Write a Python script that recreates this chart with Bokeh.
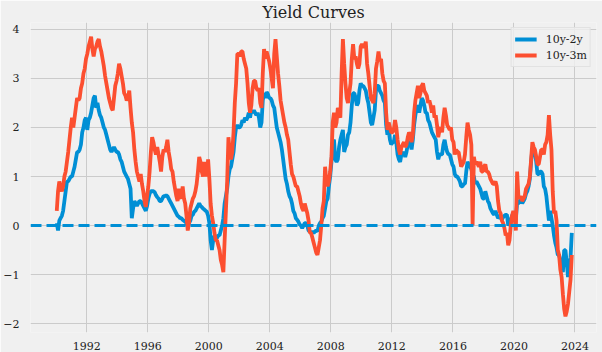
from bokeh.plotting import figure
from bokeh.models import Range1d, FixedTicker, Span, Legend, LegendItem
from bokeh.embed import file_html
from bokeh.resources import INLINE

# ---- data (monthly values), Jan 1990 .. Oct 2023 ----
START_YEAR = 1990
spread_10y2y = [
    0.05, -0.1, 0.1, 0.15, 0.2, 0.3, 0.5, 0.7, 0.9, 0.9, 0.95, 1.0,          # 1990
    1.0, 1.1, 1.2, 1.35, 1.5, 1.5, 1.55, 1.65, 1.9, 2.0, 2.15, 2.2,          # 1991
    1.95, 2.15, 2.2, 2.3, 2.45, 2.6, 2.65, 2.4, 2.5, 2.35, 2.25, 2.2,        # 1992
    2.1, 2.0, 1.95, 1.85, 1.75, 1.65, 1.55, 1.5, 1.55, 1.6, 1.55, 1.5,       # 1993
    1.5, 1.45, 1.35, 1.3, 1.2, 1.1, 1.05, 1.0, 0.95, 0.85, 0.75, 0.15,       # 1994
    0.35, 0.5, 0.45, 0.4, 0.45, 0.5, 0.5, 0.45, 0.4, 0.35, 0.3, 0.4,         # 1995
    0.55, 0.65, 0.7, 0.7, 0.7, 0.68, 0.62, 0.58, 0.55, 0.5, 0.5, 0.55,       # 1996
    0.6, 0.6, 0.62, 0.6, 0.55, 0.5, 0.45, 0.4, 0.35, 0.3, 0.25, 0.2,         # 1997
    0.18, 0.15, 0.15, 0.12, 0.1, 0.08, 0.05, 0.0, 0.05, 0.1, 0.2, 0.22,      # 1998
    0.28, 0.3, 0.35, 0.4, 0.45, 0.4, 0.38, 0.35, 0.33, 0.3, 0.28, 0.2,       # 1999
    0.05, -0.3, -0.5, -0.3, -0.2, -0.25, -0.25, -0.2, -0.2, -0.1, 0.0, 0.15, # 2000
    0.45, 0.6, 0.75, 1.0, 1.15, 1.2, 1.35, 1.5, 1.8, 2.0, 2.05, 2.0,         # 2001
    2.0, 2.05, 2.15, 2.1, 2.2, 2.15, 2.2, 2.3, 2.2, 2.35, 2.3, 2.35,         # 2002
    2.3, 2.25, 2.3, 2.2, 2.0, 2.1, 2.55, 2.7, 2.6, 2.72, 2.68, 2.6,          # 2003
    2.6, 2.55, 2.45, 2.4, 2.2, 2.0, 1.9, 1.8, 1.7, 1.55, 1.35, 1.15,         # 2004
    0.95, 0.85, 0.7, 0.6, 0.55, 0.45, 0.3, 0.25, 0.15, 0.12, 0.08, 0.02,     # 2005
    0.0, -0.05, 0.0, 0.05, 0.05, 0.0, -0.1, -0.12, -0.15, -0.12, -0.15, -0.12,  # 2006
    -0.1, -0.12, 0.0, 0.05, 0.08, 0.15, 0.2, 0.35, 0.5, 0.55, 0.8, 1.0,      # 2007
    1.3, 1.7, 1.75, 1.35, 1.3, 1.35, 1.6, 1.75, 1.85, 1.95, 1.5, 1.6,        # 2008
    1.65, 1.85, 1.9, 2.1, 2.45, 2.7, 2.7, 2.6, 2.45, 2.5, 2.75, 2.9,         # 2009
    2.85, 2.85, 2.8, 2.75, 2.6, 2.5, 2.3, 2.1, 2.05, 2.2, 2.35, 2.75,        # 2010
    2.85, 2.85, 2.75, 2.7, 2.65, 2.55, 2.5, 2.05, 1.85, 1.95, 1.75, 1.65,    # 2011
    1.7, 1.7, 1.85, 1.7, 1.45, 1.35, 1.3, 1.45, 1.45, 1.5, 1.4, 1.5,         # 2012
    1.65, 1.7, 1.7, 1.55, 1.75, 2.05, 2.25, 2.4, 2.45, 2.3, 2.45, 2.6,       # 2013
    2.55, 2.45, 2.3, 2.3, 2.15, 2.1, 2.0, 1.9, 1.85, 1.8, 1.75, 1.5,         # 2014
    1.35, 1.45, 1.45, 1.45, 1.65, 1.75, 1.6, 1.5, 1.45, 1.45, 1.35, 1.25,    # 2015
    1.2, 1.05, 1.0, 1.0, 0.95, 0.9, 0.8, 0.8, 0.85, 0.85, 1.1, 1.3,          # 2016
    1.25, 1.2, 1.15, 1.05, 1.0, 0.85, 0.9, 0.85, 0.8, 0.75, 0.65, 0.55,      # 2017
    0.55, 0.7, 0.6, 0.5, 0.45, 0.35, 0.3, 0.25, 0.22, 0.3, 0.22, 0.15,       # 2018
    0.18, 0.17, 0.12, 0.17, 0.2, 0.22, 0.22, 0.0, 0.05, 0.12, 0.2, 0.25,     # 2019
    0.2, 0.15, 0.45, 0.45, 0.5, 0.55, 0.45, 0.5, 0.55, 0.65, 0.7, 0.8,       # 2020
    0.95, 1.3, 1.55, 1.45, 1.5, 1.3, 1.05, 1.05, 1.1, 1.1, 1.05, 0.8,        # 2021
    0.75, 0.6, 0.35, 0.1, 0.3, 0.15, 0.0, -0.2, -0.35, -0.45, -0.6, -0.6,    # 2022
    -0.7, -0.75, -0.95, -0.5, -0.5, -0.75, -1.05, -0.8, -0.65, -0.15,        # 2023
]
spread_10y3m = [
    0.3, 0.7, 0.9, 0.75, 0.7, 0.8, 1.0, 1.1, 1.3, 1.5, 1.75, 2.0,            # 1990
    2.2, 2.0, 2.2, 2.4, 2.6, 2.55, 2.6, 2.8, 2.9, 3.1, 3.2, 3.4,             # 1991
    3.5, 3.65, 3.75, 3.85, 3.6, 3.45, 3.6, 3.65, 3.75, 3.8, 3.65, 3.55,      # 1992
    3.4, 3.25, 3.05, 2.9, 2.75, 2.6, 2.5, 2.4, 2.35, 2.6, 2.85, 2.95,        # 1993
    3.1, 3.3, 3.2, 3.05, 2.9, 2.7, 2.65, 2.55, 2.6, 2.75, 2.4, 2.1,          # 1994
    1.9, 1.55, 1.3, 1.1, 1.0, 0.9, 1.05, 0.85, 0.7, 0.5, 0.38, 0.6,          # 1995
    0.8, 1.1, 1.5, 1.8, 1.7, 1.55, 1.45, 1.6, 1.45, 1.3, 1.1, 1.4,           # 1996
    1.55, 1.5, 1.6, 1.75, 1.5, 1.35, 1.15, 1.1, 0.9, 0.75, 0.6, 0.5,         # 1997
    0.75, 0.6, 0.55, 0.8, 0.55, 0.45, 0.2, -0.1, 0.05, 0.35, 0.45, 0.55,     # 1998
    0.6, 0.7, 0.85, 1.1, 1.4, 1.3, 1.1, 1.0, 1.3, 1.15, 1.0, 1.35,           # 1999
    0.95, 0.45, 0.2, 0.05, -0.15, -0.3, -0.3, -0.4, -0.5, -0.7, -0.8, -0.95, # 2000
    -0.3, 0.3, 0.9, 1.8, 1.5, 1.35, 1.5, 1.9, 2.5, 2.9, 3.5, 3.5,            # 2001
    3.45, 3.55, 3.55, 3.4, 3.3, 3.2, 2.9, 2.5, 2.3, 2.45, 2.8, 2.95,         # 2002
    2.95, 2.8, 2.75, 2.8, 2.5, 2.4, 3.1, 3.6, 3.4, 3.55, 3.45, 3.35,         # 2003
    3.2, 3.0, 2.8, 3.5, 3.8, 3.45, 3.1, 2.85, 2.55, 2.4, 2.25, 2.1,          # 2004
    2.0, 1.85, 1.75, 1.5, 1.25, 1.05, 1.0, 0.9, 0.8, 0.8, 0.7, 0.6,          # 2005
    0.45, 0.35, 0.3, 0.45, 0.35, 0.25, 0.1, -0.15, -0.15, -0.25, -0.35, -0.45,  # 2006
    -0.55, -0.6, -0.45, -0.3, 0.0, 0.35, 0.5, 1.2, 0.9, 0.8, 0.9, 1.1,       # 2007
    1.4, 2.1, 2.3, 2.0, 2.1, 2.4, 2.3, 2.2, 3.1, 3.8, 3.3, 2.9,              # 2008
    2.6, 2.5, 2.7, 2.9, 3.4, 3.7, 3.4, 3.45, 3.3, 3.2, 3.3, 3.65,            # 2009
    3.7, 3.65, 3.65, 3.75, 3.3, 3.1, 2.85, 2.6, 2.55, 2.5, 2.7, 3.2,         # 2010
    3.35, 3.55, 3.35, 3.4, 3.1, 2.95, 2.9, 2.3, 1.95, 2.1, 2.0, 1.9,         # 2011
    1.9, 1.95, 2.15, 2.0, 1.75, 1.55, 1.45, 1.6, 1.65, 1.7, 1.6, 1.65,       # 2012
    1.8, 1.9, 1.85, 1.7, 1.85, 2.3, 2.55, 2.7, 2.85, 2.6, 2.7, 2.85,         # 2013
    2.9, 2.75, 2.7, 2.65, 2.5, 2.55, 2.45, 2.3, 2.45, 2.2, 2.25, 2.05,       # 2014
    1.8, 1.95, 2.0, 1.9, 2.2, 2.4, 2.25, 2.05, 2.0, 1.95, 2.0, 1.75,         # 2015
    1.7, 1.45, 1.55, 1.5, 1.5, 1.35, 1.2, 1.25, 1.3, 1.45, 1.8, 2.1,         # 2016
    1.95, 1.85, 1.65, 0.0, 1.4, 1.25, 1.3, 1.25, 1.2, 1.3, 1.1, 1.1,         # 2017
    1.2, 1.25, 1.1, 1.1, 1.05, 0.95, 0.9, 0.85, 0.85, 0.9, 0.8, 0.5,         # 2018
    0.3, 0.25, 0.1, 0.05, -0.05, -0.2, -0.15, -0.4, -0.3, 0.0, 0.2, 0.3,     # 2019
    0.2, -0.1, 1.1, 0.6, 0.55, 0.6, 0.5, 0.55, 0.6, 0.75, 0.8, 0.85,         # 2020
    1.0, 1.35, 1.7, 1.6, 1.55, 1.4, 1.25, 1.25, 1.4, 1.55, 1.55, 1.45,       # 2021
    1.65, 1.7, 1.85, 2.25, 1.85, 1.55, 0.7, 0.25, 0.3, 0.1, -0.5, -0.6,      # 2022
    -0.9, -1.05, -1.4, -1.7, -1.85, -1.75, -1.6, -1.35, -1.1, -0.6,          # 2023
]
series_labels = ["10y-2y", "10y-3m"]
tick_years = [1992, 1996, 2000, 2004, 2008, 2012, 2016, 2020, 2024]
y_ticks = [-2, -1, 0, 1, 2, 3, 4]

# decimal-year position of each monthly value (mid-month)
months = [START_YEAR + (i + 0.5) / 12.0 for i in range(len(spread_10y2y))]

BLUE = "#008fd5"
RED = "#fc4f30"
BG = "#f0f0f0"
FONT = "DejaVu Serif"
TXT = "#222222"

p = figure(width=602, height=352, output_backend="svg", toolbar_location=None,
           x_range=Range1d(1988.32, 2025.41), y_range=Range1d(-2.18, 4.14),
           min_border_left=25, min_border_right=6, min_border_top=22,
           min_border_bottom=20, title="Yield Curves")

p.background_fill_color = BG
p.border_fill_color = BG
p.outline_line_color = None

p.title.align = "center"
p.title.text_font = FONT
p.title.text_font_size = "16px"
p.title.text_font_style = "normal"
p.title.text_color = TXT
p.title.standoff = 1

p.xaxis.ticker = FixedTicker(ticks=tick_years)
p.yaxis.ticker = FixedTicker(ticks=y_ticks)
p.yaxis.major_label_overrides = {v: (("\u2212" + str(-v)) if v < 0 else str(v)) for v in y_ticks}
for ax in (p.xaxis, p.yaxis):
    ax.axis_line_color = None
    ax.major_tick_line_color = None
    ax.minor_tick_line_color = None
    ax.major_label_text_font = FONT
    ax.major_label_text_font_size = "11px"
    ax.major_label_text_color = TXT
p.yaxis.major_label_standoff = 5
p.xaxis.major_label_standoff = 3

p.grid.grid_line_color = "#cbcbcb"
p.grid.grid_line_width = 1

r1 = p.line(months, spread_10y2y, line_color=BLUE, line_width=3.8)
r2 = p.line(months, spread_10y3m, line_color=RED, line_width=3.8)

zero = Span(location=0, dimension="width", line_color=BLUE, line_width=3,
            line_dash="11 5")
p.add_layout(zero)

legend = Legend(items=[LegendItem(label=series_labels[0], renderers=[r1]),
                       LegendItem(label=series_labels[1], renderers=[r2])],
                location="top_right")
legend.label_text_font = FONT
legend.label_text_font_size = "11px"
legend.label_text_color = TXT
legend.background_fill_color = BG
legend.background_fill_alpha = 0.8
legend.border_line_color = "#d3d3d3"
legend.border_line_width = 1
legend.padding = 3
legend.spacing = 0
legend.margin = 5
legend.glyph_width = 22
legend.glyph_height = 16
legend.label_height = 16
legend.label_standoff = 9
p.add_layout(legend)

open("out.html", "w").write(file_html(p, INLINE))
